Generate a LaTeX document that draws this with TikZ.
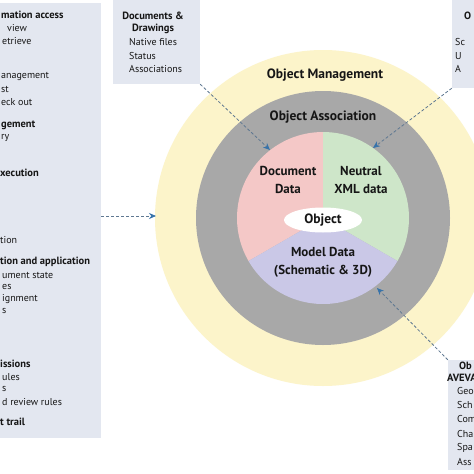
\documentclass[tikz,border=0pt]{standalone}
\usepackage{fontspec}
\setmainfont{PT Sans}
\usetikzlibrary{arrows.meta,shapes.geometric}

\definecolor{mgmtyellow}{RGB}{252,244,202}
\definecolor{assocgray}{RGB}{168,168,168}
\definecolor{docpink}{RGB}{244,200,199}
\definecolor{xmlgreen}{RGB}{206,230,201}
\definecolor{modelblue}{RGB}{202,200,231}
\definecolor{boxfill}{RGB}{227,231,240}
\definecolor{linkline}{RGB}{95,120,145}
\definecolor{linktip}{RGB}{55,115,170}
\definecolor{inktext}{RGB}{22,22,22}

\tikzset{
	infobox/.style={draw=none, fill=boxfill, rectangle, inner sep=0pt},
	item/.style={anchor=west, inner sep=0pt, font=\fontsize{10}{11}\selectfont, text=inktext},
	head/.style={item, font=\fontsize{10.5}{11}\selectfont\bfseries},
	ringlabel/.style={inner sep=0pt, font=\fontsize{13.5}{14}\selectfont\bfseries, text=inktext},
	pielabel/.style={inner sep=0pt, align=center, font=\fontsize{13}{18}\selectfont\bfseries, text=inktext},
	link/.style={draw=linkline, line width=0.8pt, dash pattern=on 3pt off 2pt,
		-{Stealth[length=7pt,width=6pt,color=linktip]}}
}

\begin{document}
\begin{tikzpicture}[x=1pt,y=-1pt]
	\useasboundingbox (0,0) rectangle (474,474);
	\clip (0,0) rectangle (474,474);
	\fill[white] (0,0) rectangle (474,474);

	% rings
	\fill[mgmtyellow] (323,218) circle[radius=168pt];
	\fill[assocgray] (323,218) circle[radius=127pt];
	\fill[docpink] (323,218) -- ++(90:86pt) arc[start angle=90, end angle=210, radius=86pt] -- cycle;
	\fill[xmlgreen] (323,218) -- ++(90:86pt) arc[start angle=90, end angle=-30, radius=86pt] -- cycle;
	\fill[modelblue] (323,218) -- ++(210:86pt) arc[start angle=210, end angle=330, radius=86pt] -- cycle;

	\node[ringlabel] (mgmt) at (325,75) {Object Management};
	\node[ringlabel] (assoc) at (323,117) {Object Association};
	\node[pielabel] (docdata) at (288,180) {Document\\Data};
	\node[pielabel] (xmldata) at (361,180) {Neutral\\XML data};
	\node[pielabel] (modeldata) at (323,262) {Model Data\\(Schematic \& 3D)};
	\node[ellipse, fill=white, minimum width=78pt, minimum height=25pt, inner sep=0pt,
		font=\fontsize{13.5}{14}\selectfont\bfseries, text=inktext] (obj) at (323,220) {Object};

	% left box
	\node[infobox, minimum width=111pt, minimum height=435pt] (accessbox) at (45.5,220.5) {};
	\node[head] (acc1) at (1,15) {mation access};
	\node[item] (acc2) at (7,28) {view};
	\node[item] (acc3) at (2,41) {etrieve};
	\node[item] (acc4) at (1,76) {anagement};
	\node[item] (acc5) at (1,89) {st};
	\node[item] (acc6) at (1,102) {eck out};
	\node[head] (acc7) at (1,125) {gement};
	\node[item] (acc8) at (1,138) {ry};
	\node[head] (acc9) at (0,173) {xecution};
	\node[item] (acc10) at (0,240) {tion};
	\node[head] (acc11) at (0,262) {tion and application};
	\node[item] (acc12) at (2,275) {ument state};
	\node[item] (acc13) at (2,287) {es};
	\node[item] (acc14) at (2,299) {ignment};
	\node[item] (acc15) at (2,311) {s};
	\node[head] (acc16) at (0,364) {issions};
	\node[item] (acc17) at (2,377) {ules};
	\node[item] (acc18) at (2,389) {s};
	\node[item] (acc19) at (2,402) {d review rules};
	\node[head] (acc20) at (0,422) {t trail};

	% documents box
	\node[infobox, minimum width=87pt, minimum height=89pt] (docbox) at (156.5,39.5) {};
	\node[head, anchor=center] (doc1) at (153,16) {Documents \&};
	\node[head, anchor=center] (doc2) at (153,29) {Drawings};
	\node[item] (doc3) at (129,42) {Native files};
	\node[item] (doc4) at (129,56) {Status};
	\node[item] (doc5) at (129,69) {Associations};

	% top right box
	\node[infobox, minimum width=40pt, minimum height=93pt] (topbox) at (472,41.5) {};
	\node[head] (top1) at (464,16) {O};
	\node[item] (top2) at (455,42) {Sc};
	\node[item] (top3) at (455,56) {U};
	\node[item] (top4) at (455,69) {A};

	% bottom right box
	\node[infobox, minimum width=44pt, minimum height=110pt] (modelbox) at (470,415) {};
	\node[head] (mod1) at (459,366) {Ob};
	\node[head] (mod2) at (447,378) {AVEVA};
	\node[item] (mod3) at (457,391) {Geo};
	\node[item] (mod4) at (457,405) {Sch};
	\node[item] (mod5) at (457,419) {Com};
	\node[item] (mod6) at (457,434) {Cha};
	\node[item] (mod7) at (457,448) {Spa};
	\node[item] (mod8) at (457,462) {Ass};

	% arrows
	\coordinate (docend) at (270,150);
	\coordinate (xmlend) at (373,148);
	\coordinate (leftend) at (156,216);
	\coordinate (modelend) at (377,288);
	\draw[link] (docbox.south east) -- (docend);
	\draw[link] (topbox.south west) -- (xmlend);
	\draw[link] ([yshift=4.5pt]accessbox.east) -- (leftend);
	\draw[link] (modelbox.north west) -- (modelend);
\end{tikzpicture}
\end{document}
